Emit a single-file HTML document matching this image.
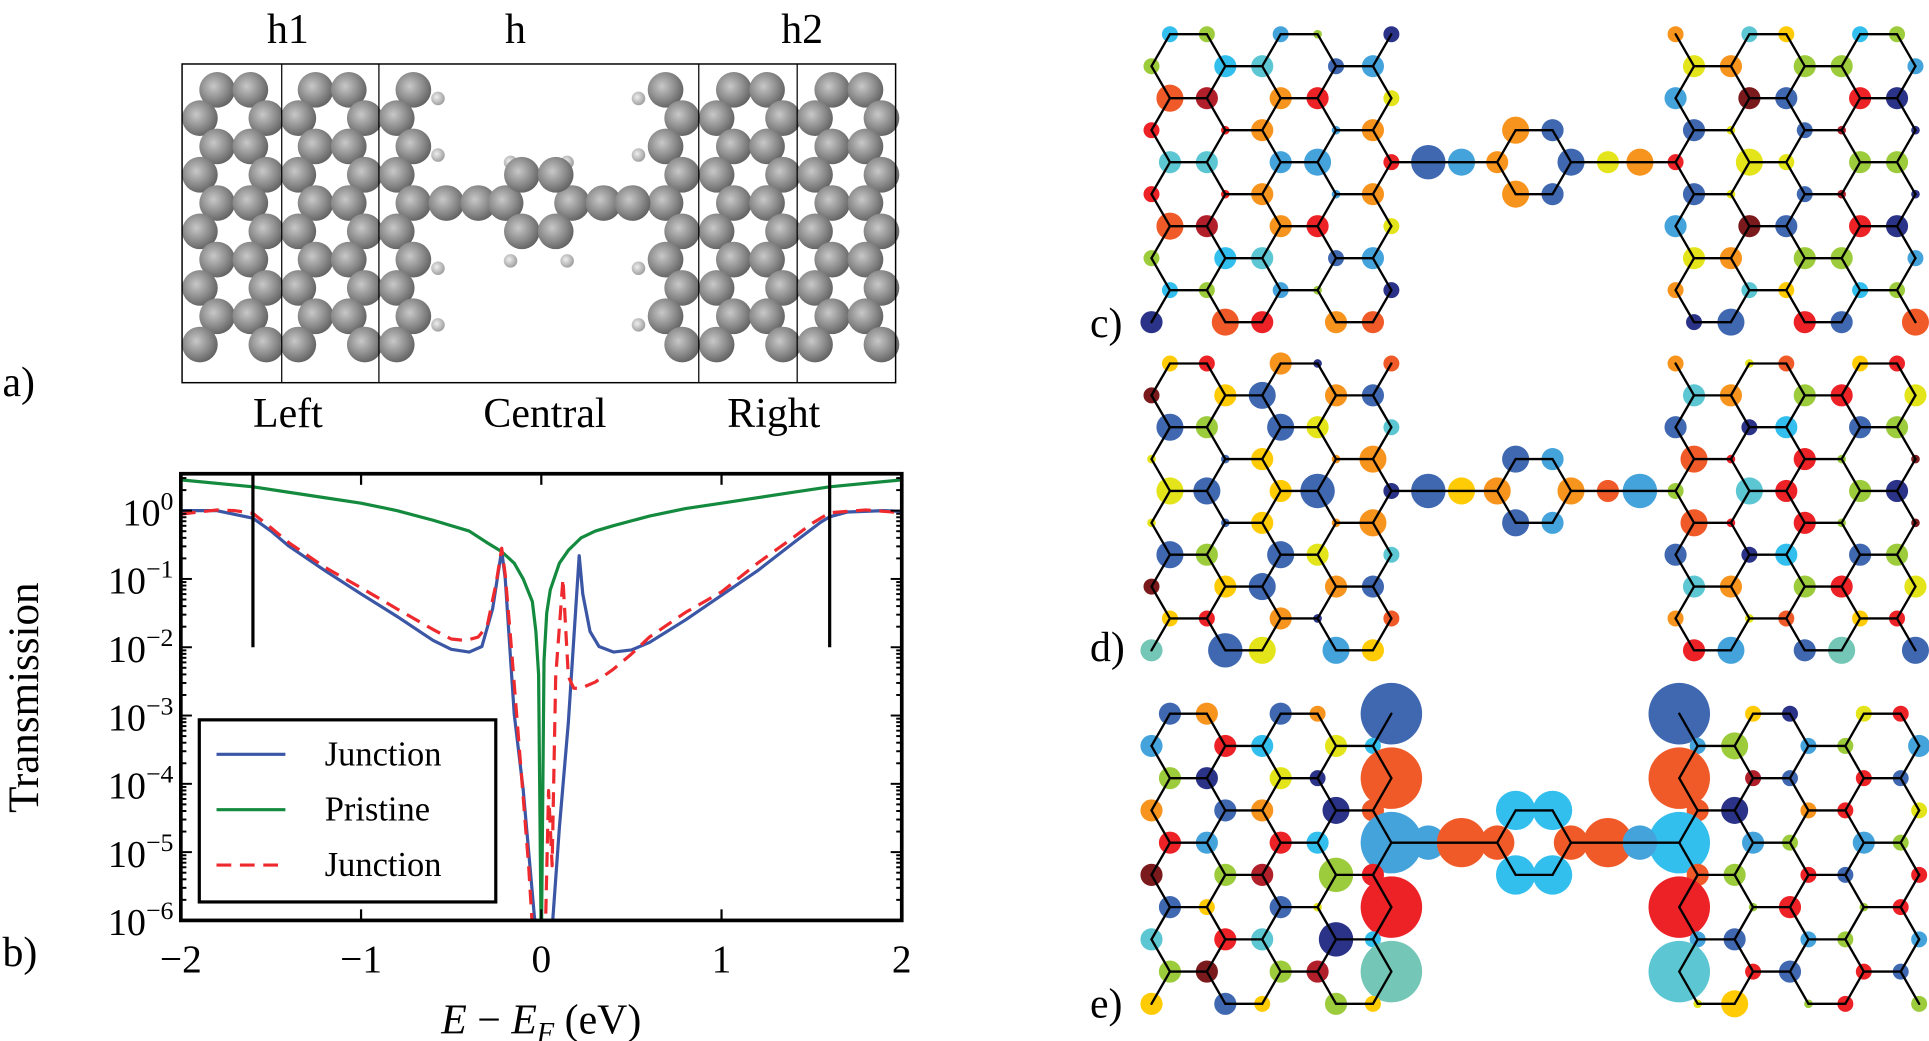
<!DOCTYPE html>
<html><head><meta charset="utf-8"><style>
html,body{margin:0;padding:0;background:#fff;}
svg{display:block;}
text{font-family:"Liberation Serif","DejaVu Serif",serif;fill:#000;}
</style></head><body>
<svg id="fig" font-family="Liberation Serif, DejaVu Serif, serif" width="1929" height="1041" viewBox="0 0 1568 846" preserveAspectRatio="none" xmlns="http://www.w3.org/2000/svg">
<defs>
<radialGradient id="atomG" cx="0.4" cy="0.4" r="0.65"><stop offset="0" stop-color="#c8c8c8"/><stop offset="0.6" stop-color="#8a8a8a"/><stop offset="1" stop-color="#5e5e5e"/></radialGradient>
<radialGradient id="hG" cx="0.4" cy="0.4" r="0.65"><stop offset="0" stop-color="#eeeeee"/><stop offset="1" stop-color="#9a9a9a"/></radialGradient>
<clipPath id="plotClip"><rect x="147" y="385" width="586" height="363"/></clipPath>
</defs>
<g id="panelA">
  <g id="atoms"></g>
  <rect x="148" y="52" width="580" height="259" fill="none" stroke="#000" stroke-width="1.2"/>
  <line x1="229" y1="52" x2="229" y2="311" stroke="#000" stroke-width="1"/>
  <line x1="308" y1="52" x2="308" y2="311" stroke="#000" stroke-width="1"/>
  <line x1="568" y1="52" x2="568" y2="311" stroke="#000" stroke-width="1"/>
  <line x1="648" y1="52" x2="648" y2="311" stroke="#000" stroke-width="1"/>
  <text x="234" y="35" font-size="34" text-anchor="middle">h1</text>
  <text x="419" y="35" font-size="34" text-anchor="middle">h</text>
  <text x="652" y="35" font-size="34" text-anchor="middle">h2</text>
  <text x="234" y="347" font-size="34" text-anchor="middle">Left</text>
  <text x="443" y="347" font-size="34" text-anchor="middle">Central</text>
  <text x="629" y="347" font-size="34" text-anchor="middle">Right</text>
  <text x="2" y="322" font-size="34">a)</text>
</g>
<g id="panelB"></g>
<g id="panelC"></g>
<g id="panelD"></g>
<g id="panelE"></g>
<text x="886" y="274" font-size="34">c)</text>
<text x="886" y="537" font-size="34">d)</text>
<text x="886" y="827" font-size="34">e)</text>
</svg>
<script>
// ---- chart data ----
const junctionE = [-2,-1.8,-1.6,-1.5,-1.4,-1.2,-1.0,-0.8,-0.6,-0.5,-0.4,-0.33,-0.27,-0.22,-0.2,-0.15,-0.1,-0.05,-0.02,0.05,0.1,0.15,0.18,0.21,0.23,0.27,0.32,0.4,0.5,0.6,0.8,1.0,1.2,1.4,1.55,1.6,1.7,1.9,2.0];
const junctionLogT = [0,0,-0.11,-0.3,-0.52,-0.88,-1.22,-1.55,-1.9,-2.03,-2.07,-1.99,-1.44,-0.58,-1.0,-2.98,-4.09,-5.6,-6.5,-6.5,-4.64,-3.1,-1.88,-0.66,-1.22,-1.77,-1.99,-2.07,-2.04,-1.93,-1.6,-1.24,-0.88,-0.47,-0.17,-0.09,-0.02,0,-0.01];
const pristineE = [-2,-1.6,-1.2,-1.0,-0.8,-0.6,-0.4,-0.3,-0.22,-0.15,-0.1,-0.05,-0.03,-0.015,0,0.015,0.03,0.05,0.1,0.15,0.22,0.3,0.4,0.6,0.8,1.0,1.4,1.6,2.0];
const pristineLogT = [0.45,0.35,0.19,0.11,0,-0.14,-0.3,-0.47,-0.6,-0.77,-1.0,-1.33,-1.77,-2.4,-6.5,-2.2,-1.5,-1.16,-0.77,-0.58,-0.4,-0.3,-0.22,-0.08,0.03,0.11,0.27,0.35,0.45];
const junction2E = [-2,-1.8,-1.7,-1.6,-1.5,-1.4,-1.2,-1.0,-0.8,-0.6,-0.5,-0.42,-0.35,-0.3,-0.25,-0.22,-0.2,-0.17,-0.12,-0.07,-0.04,0.02,0.04,0.06,0.08,0.12,0.15,0.18,0.22,0.3,0.4,0.5,0.6,0.8,1.0,1.2,1.4,1.5,1.6,1.8,2.0];
const junction2LogT = [-0.05,0.01,0,-0.04,-0.25,-0.47,-0.83,-1.13,-1.44,-1.74,-1.88,-1.9,-1.85,-1.69,-1.05,-0.55,-0.94,-1.88,-3.54,-5.2,-6.5,-6.5,-4.1,-5.2,-2.43,-1.0,-2.43,-2.6,-2.6,-2.51,-2.32,-2.1,-1.85,-1.49,-1.19,-0.77,-0.39,-0.19,-0.03,0.01,-0.03];
const xTicks = [-2,-1,0,1,2];
const xTickLabels = ["\u22122","\u22121","0","1","2"];
const yDecades = [0,-1,-2,-3,-4,-5,-6];
const yTickLabels = ["0","\u22121","\u22122","\u22123","\u22124","\u22125","\u22126"];
const leadMarkers = [-1.6,1.6];
const legendLabels = ["Junction","Pristine","Junction"];

const NS="http://www.w3.org/2000/svg";
function mk(tag, attrs, parent){const e=document.createElementNS(NS,tag);for(const k in attrs)e.setAttribute(k,attrs[k]);parent.appendChild(e);return e;}
const PX0=147,PX1=733,PY0=385,PY1=748;
function xS(E){return PX0+(E+2)*(PX1-PX0)/4;}
function yS(l){return 415-l*55.5;}

const gB=document.getElementById('panelB');
const curves=[[junctionE,junctionLogT,'#3a56a5','none','junction-curve'],[pristineE,pristineLogT,'#138a3e','none','pristine-curve'],[junction2E,junction2LogT,'#ee2a2e','12 7','junction-dashed-curve']];
const cg=mk('g',{'clip-path':'url(#plotClip)'},gB);


for(const c of curves){
  const d=c[0].map((E,i)=>(i?'L':'M')+xS(E).toFixed(1)+' '+yS(c[1][i]).toFixed(1)).join(' ');
  const p=mk('path',{d:d,fill:'none',stroke:c[2],'stroke-width':'2.6','stroke-dasharray':c[3],'stroke-linejoin':'round'},cg);
  
  
}
for(const m of leadMarkers){
  const l=mk('line',{x1:xS(m),x2:xS(m),y1:PY0,y2:yS(-2),stroke:'#000','stroke-width':'2.6'},gB);
  
  
}
const fr=mk('rect',{x:PX0,y:PY0,width:PX1-PX0,height:PY1-PY0,fill:'none',stroke:'#000','stroke-width':'3'},gB);


for(let d=-7;d<=0;d++){
  for(let m=1;m<=9;m++){
    const lv=d+Math.log10(m);
    if(lv<-6.001||lv>0.54)continue;
    const y=yS(lv), len=m===1?9:4.5;
    const t1=mk('line',{x1:PX0,x2:PX0+len,y1:y,y2:y,stroke:'#000','stroke-width':'1.6'},gB);
    
    
    const t2=mk('line',{x1:PX1,x2:PX1-len,y1:y,y2:y,stroke:'#000','stroke-width':'1.6'},gB);
    
    
  }
}
yDecades.forEach((dv,i)=>{
  const t=mk('text',{x:141,y:yS(dv)+12,'font-size':'31','text-anchor':'end'},gB);
  
  
  t.appendChild(document.createTextNode('10'));
  const s=mk('tspan',{dy:'-13','font-size':'21'},t);
  s.textContent=yTickLabels[i];
});
xTicks.forEach((xv,i)=>{
  const x=xS(xv);
  const a=mk('line',{x1:x,x2:x,y1:PY1,y2:PY1-9,stroke:'#000','stroke-width':'1.8'},gB);
  
  
  const b=mk('line',{x1:x,x2:x,y1:PY0,y2:PY0+9,stroke:'#000','stroke-width':'1.8'},gB);
  
  
  const t=mk('text',{x:x,y:790,'font-size':'32','text-anchor':'middle'},gB);
  
  
  t.textContent=xTickLabels[i];
});
const xt=mk('text',{x:440,y:840,'font-size':'34','text-anchor':'middle'},gB);


xt.innerHTML='<tspan font-style="italic">E</tspan> \u2212 <tspan font-style="italic">E</tspan><tspan font-style="italic" font-size="23" dy="7">F</tspan><tspan dy="-7"> (eV)</tspan>';
const yt=mk('text',{x:0,y:0,'font-size':'35','text-anchor':'middle',transform:'translate(31,567) rotate(-90)'},gB);


yt.textContent='Transmission';
const bl=mk('text',{x:2,y:785,'font-size':'34'},gB);


bl.textContent='b)';
const lg=mk('g',{},gB);


const lr=mk('rect',{x:162,y:585,width:241,height:148,fill:'#fff',stroke:'#000','stroke-width':'2.6'},lg);


legendLabels.forEach((lab,i)=>{
  const y=613+i*45;
  const ln=mk('line',{x1:176,x2:232,y1:y,y2:y,stroke:curves[i][2],'stroke-width':'2.6','stroke-dasharray':curves[i][3]},lg);
  
  
  const t=mk('text',{x:264,y:y+9,'font-size':'28'},lg);
  
  
  t.textContent=lab;
});

// ---- panel a atoms ----
const gA=document.getElementById('atoms');
function atom(x,y,r,h){const c=mk('circle',{cx:x,cy:y,r:r,fill:h?'url(#hG)':'url(#atomG)'},gA);

}
const RA=14.5;
const rowsA=[73,96,119,142,165,188,211,234,257,280];
const cells=[148,228,568,648];
for(const cx of cells){rowsA.forEach((y,i)=>{if(i%2===0){atom(cx+28.5,y,RA);atom(cx+55.5,y,RA);}else{atom(cx+14.5,y,RA);atom(cx+68.5,y,RA);}});}
rowsA.forEach((y,i)=>{atom(i%2===0?336:322.5,y,RA);atom(i%2===0?541:554.5,y,RA);});
[80,126,218,264].forEach(y=>{atom(356,y,5.5,true);atom(519,y,5.5,true);});
[[415,132],[461,132],[415,212],[461,212]].forEach(p=>atom(p[0],p[1],5.5,true));
[362.8,388.8,411,465,490.6,514.2].forEach(x=>atom(x,165,RA));
[424.2,451.7].forEach(x=>{atom(x,142,RA);atom(x,188,RA);});

// ---- lattices ----
const COL={B:'#2b3388',b:'#3f68b1',s:'#45a3dc',c:'#33bfee',t:'#5cc7d3',g:'#9ccb3b',y:'#e4e41a',Y:'#ffcb05',o:'#f7941d',O:'#f05a28',r:'#ec2227',R:'#b01f2a',M:'#7a1a1c',G:'#74c6b6'};
const RAD={1:3.5,2:6.5,3:9,4:11,5:14,6:16,7:20,9:25};
function mirror(r){return [r[0],r[1],r[2],r[3],r[4],r[3],r[2],r[1],r[0],r[5]];}
const cLeft=mirror(["c2 g2 s2 g1 B2","g2 c3 t3 b2 s3","O4 R3 o3 r3 y2","r2 r1 o3 s1 o3","t3 t3 s3 s4 r2","B3 O4 r3 o3 O3"]);
const cRight=mirror(["o2 t2 Y2 c2 g2","y3 o3 g3 g3 s2","s3 M3 b3 r3 B3","b3 y1 b2 R1 B1","r2 y4 y2 g3 g3","B2 b4 r3 b3 O4"]);
const cCenter="b5 s4 o3 o4 b3 o4 b3 b4 y3 o4";
const dLeft=mirror(["Y2 r2 o3 B1 O2","M2 Y3 b4 o3 b3","b4 g3 b4 y3 t2","y1 b1 Y3 o1 o4","y4 b4 Y3 b5 B2","G3 b5 y4 s4 Y3"]);
const dRight=mirror(["o2 y1 O2 Y2 r2","t3 o3 g3 r3 y3","b3 B2 c3 b3 g3","O4 r1 r3 g1 M1","g2 t4 r3 g3 B3","r3 s4 b3 G4 b4"]);
const dCenter="b5 Y4 o4 b4 s3 b4 s3 o4 O3 s5";
const eLeft=["b3 o3 b3 o2 b9","s3 r3 c3 y3 c2","g3 B3 y3 B2 O9","o3 b3 o3 B4 O3","r3 s3 r3 c3 s9","M3 g3 R3 g5 r3","b3 Y2 b3 y1 r9","t3 r3 t3 B5 c2","g3 M3 g3 R3 G9","Y3 b3 Y2 g3 Y2"];
const eRight=["b9 Y2 B2 y2 r2","s2 g4 s2 g2 s3","O9 R2 b2 r2 b2","O3 B4 o2 r2 y2","c9 s3 g2 s3 g2","O3 g3 r2 b2 r2","r9 g1 r3 g1 r2","s2 b3 s2 g2 s2","t9 r2 b3 r2 b2","y1 Y4 g1 r2 g2"];
const eCenter="s5 O7 O5 c6 c6 c6 c6 O5 O7 s5";

const A=30;
const setA=[0.5,1.5,3.5,4.5,6.5], setB=[0,2,3,5,6];
function lattice(gid,y0,dy,left,right,center,xR){
  const g=document.getElementById(gid);
  const dots=mk('g',{},g); const lines=mk('g',{stroke:'#000','stroke-width':'1.9','stroke-linecap':'round'},g);
  function dot(x,y,code){const c=mk('circle',{cx:x,cy:y,r:RAD[code[1]],fill:COL[code[0]]},dots);
    
    }
  function seg(x1,y1,x2,y2){const l=mk('line',{x1:x1,y1:y1,x2:x2,y2:y2},lines);
    
    }
  const sides=[[936,left,0],[xR,right,1]];
  for(const [x0,codes,par] of sides){
    const pts=[];
    for(let r=0;r<10;r++){
      const set=((r+par)%2===0)?setA:setB;
      const cs=codes[r].split(' ');
      pts.push(set.map(v=>x0+v*A));
      set.forEach((v,i)=>dot(x0+v*A,y0+r*dy,cs[i]));
    }
    for(let r=0;r<10;r++){
      const row=pts[r],y=y0+r*dy;
      for(let i=0;i+1<row.length;i++) if(Math.abs(row[i+1]-row[i]-A)<1) seg(row[i],y,row[i+1],y);
      if(r<9){for(const a of row)for(const b of pts[r+1]) if(Math.abs(Math.abs(a-b)-A/2)<1) seg(a,y,b,y+dy);}
    }
  }
  const yc=y0+4*dy, cs=center.split(' ');
  const cp=[[1161,yc],[1188,yc],[1217,yc],[1232,yc-dy],[1262,yc-dy],[1232,yc+dy],[1262,yc+dy],[1277,yc],[1307,yc],[1333,yc]];
  cp.forEach((p,i)=>dot(p[0],p[1],cs[i]));
  seg(936+6.5*A,yc,1217,yc); seg(1277,yc,xR,yc);
  seg(1217,yc,1232,yc-dy); seg(1232,yc-dy,1262,yc-dy); seg(1262,yc-dy,1277,yc);
  seg(1217,yc,1232,yc+dy); seg(1232,yc+dy,1262,yc+dy); seg(1262,yc+dy,1277,yc);
}
lattice('panelC',27.8,26,cLeft,cRight,cCenter,1362);
lattice('panelD',295.4,25.9,dLeft,dRight,dCenter,1362);
lattice('panelE',580,26.2,eLeft,eRight,eCenter,1365);
</script>
</body></html>
